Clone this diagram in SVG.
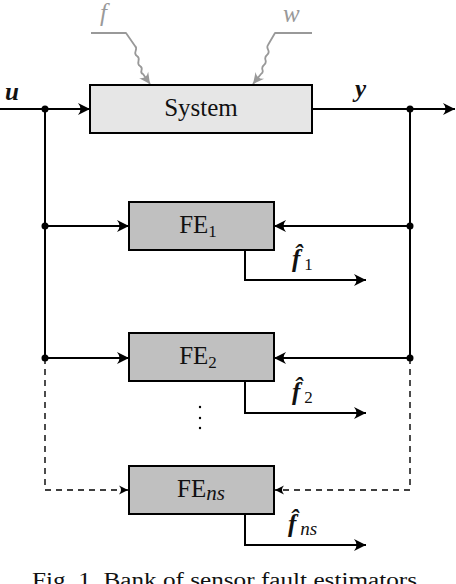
<svg xmlns="http://www.w3.org/2000/svg" width="456" height="584" viewBox="0 0 456 584">
<defs>
<marker id="ah" viewBox="-12 -7 13 14" refX="0" refY="0" markerWidth="13" markerHeight="14" markerUnits="userSpaceOnUse" orient="auto"><path d="M0,0 L-12,-6 Q-7,0 -12,6 Z" fill="#000" stroke="none"/></marker>
<marker id="ahs" viewBox="-10 -5 11 10" refX="0" refY="0" markerWidth="11" markerHeight="10" markerUnits="userSpaceOnUse" orient="auto"><path d="M0,0 L-9,-4.5 Q-5,0 -9,4.5 Z" fill="#000" stroke="none"/></marker>
<marker id="ahg" viewBox="-12 -7 13 14" refX="0" refY="0" markerWidth="13" markerHeight="14" markerUnits="userSpaceOnUse" orient="auto"><path d="M0,0 L-11,-5.5 Q-6,0 -11,5.5 Z" fill="#999" stroke="none"/></marker>
</defs>

<g id="connectors">
  <g fill="none" stroke="#000" stroke-width="2">
    <path d="M0,109 H90" marker-end="url(#ah)"/>
    <path d="M312,109 H455" marker-end="url(#ah)"/>
    <path d="M45,109 V358"/>
    <path d="M410,109 V358"/>
    <path d="M45,226 H129" marker-end="url(#ah)"/>
    <path d="M410,226 H274" marker-end="url(#ah)"/>
    <path d="M45,358 H129" marker-end="url(#ah)"/>
    <path d="M410,358 H274" marker-end="url(#ah)"/>
    <path d="M245,250 V280 H366" marker-end="url(#ah)"/>
    <path d="M245,381 V413 H366" marker-end="url(#ah)"/>
    <path d="M245,514 V545 H366" marker-end="url(#ah)"/>
  </g>
  <g fill="none" stroke="#000" stroke-width="1.4" stroke-dasharray="6,5">
    <path d="M45,358 V490 H128" marker-end="url(#ahs)"/>
    <path d="M410,358 V490 H275" marker-end="url(#ahs)"/>
  </g>
  <g fill="none" stroke="#999" stroke-width="1.8" stroke-linejoin="round">
    <path d="M91,33 H126 L135,46 C139,49 132,53 137,56 C142,59 135,63 140,66 C145,69 138,72 143,74 L150,84" marker-end="url(#ahg)"/>
    <path d="M312,33 H275 L268,45 C265,49 272,51 267,55 C262,59 269,61 264,65 C259,69 266,71 261,74 L253,84" marker-end="url(#ahg)"/>
  </g>
  <g fill="#000">
    <circle cx="45" cy="109" r="3.5"/>
    <circle cx="410" cy="109" r="3.5"/>
    <circle cx="45" cy="226" r="3.5"/>
    <circle cx="410" cy="226" r="3.5"/>
    <circle cx="45" cy="358" r="3.5"/>
    <circle cx="410" cy="358" r="3.5"/>
    <circle cx="200" cy="407" r="1.2"/>
    <circle cx="200" cy="418" r="1.2"/>
    <circle cx="200" cy="428" r="1.2"/>
  </g>
</g>

<g font-family="Liberation Serif, serif" font-size="25" fill="#111">
<g id="system">
  <rect x="90" y="85" width="222" height="48" fill="#e6e6e6" stroke="#000" stroke-width="2"/>
  <text x="201" y="115.5" text-anchor="middle">System</text>
</g>
<g id="fe1">
  <rect x="129" y="202" width="145" height="48" fill="#c0c0c0" stroke="#000" stroke-width="2"/>
  <text x="198" y="232.5" text-anchor="middle">FE<tspan font-size="17" dy="4">1</tspan></text>
</g>
<g id="fe2">
  <rect x="129" y="333" width="145" height="48" fill="#c0c0c0" stroke="#000" stroke-width="2"/>
  <text x="198" y="364" text-anchor="middle">FE<tspan font-size="17" dy="4">2</tspan></text>
</g>
<g id="fens">
  <rect x="129" y="466" width="145" height="48" fill="#c0c0c0" stroke="#000" stroke-width="2"/>
  <text x="201" y="497" text-anchor="middle">FE<tspan dy="3" font-style="italic" font-size="21">ns</tspan></text>
</g>

<g id="labels">
  <text x="5" y="100" font-weight="bold" font-style="italic">u</text>
  <text x="355" y="97" font-weight="bold" font-style="italic">y</text>
  <text x="100" y="21" font-style="italic" fill="#999">f</text>
  <text x="283" y="22" font-style="italic" fill="#999">w</text>
  <text x="292" y="267" font-weight="bold" font-style="italic">f̂<tspan font-size="17" font-weight="normal" font-style="normal" dx="4" dy="3">1</tspan></text>
  <text x="292" y="400" font-weight="bold" font-style="italic">f̂<tspan font-size="17" font-weight="normal" font-style="normal" dx="4" dy="3">2</tspan></text>
  <text x="288" y="532" font-weight="bold" font-style="italic">f̂<tspan font-size="19" font-weight="normal" dx="4" dy="3">ns</tspan></text>
  <text x="32" y="587" font-size="20" textLength="385" lengthAdjust="spacingAndGlyphs">Fig. 1.  Bank of sensor fault estimators</text>
</g>
</g>
</svg>
